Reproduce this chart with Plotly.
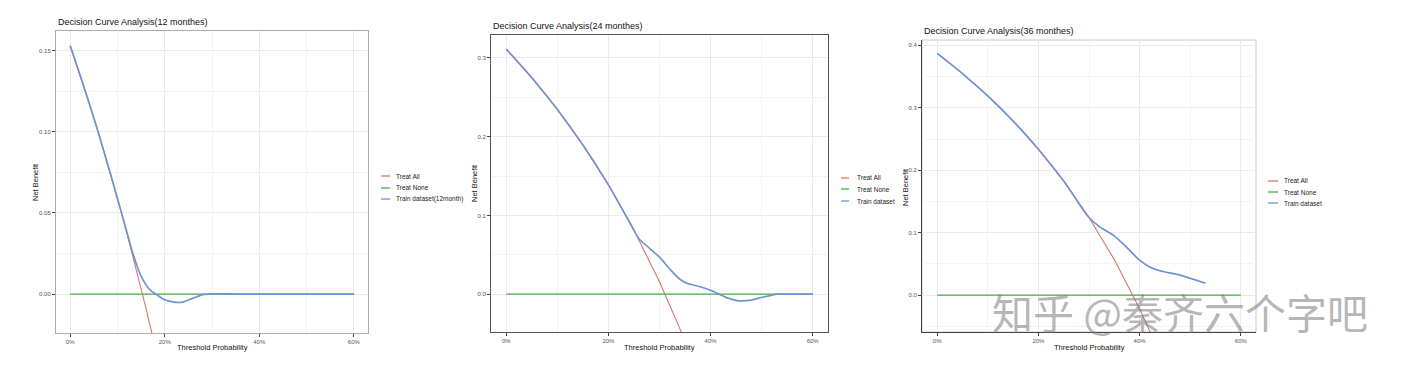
import plotly.graph_objects as go

W, H = 1408, 368

# ---------------- data ----------------
series_names_1 = ["Treat All", "Treat None", "Train dataset(12month)"]
series_names_2 = ["Treat All", "Treat None", "Train dataset"]
series_names_3 = ["Treat All", "Treat None", "Train dataset"]
titles = ["Decision Curve Analysis(12 monthes)",
          "Decision Curve Analysis(24 monthes)",
          "Decision Curve Analysis(36 monthes)"]

none_x = [0.0, 0.6]
none_y = [0.0, 0.0]

# panel 1 (12 months)
all1_x = [0.00, 0.02, 0.04, 0.06, 0.08, 0.10, 0.12, 0.14, 0.16, 0.18]
all1_y = [0.153, 0.1357, 0.1177, 0.0990, 0.0793, 0.0589, 0.0375, 0.0151, -0.0084, -0.0329]
train1_x = [0.00, 0.02, 0.04, 0.06, 0.08, 0.10, 0.12, 0.13, 0.14, 0.15, 0.16, 0.17, 0.18,
            0.19, 0.20, 0.22, 0.23, 0.24, 0.26, 0.28, 0.29, 0.35, 0.45, 0.60]
train1_y = [0.153, 0.1357, 0.1177, 0.0990, 0.0793, 0.0589, 0.0380, 0.0275, 0.0185, 0.0110,
            0.0058, 0.0022, 0.0002, -0.0018, -0.0035, -0.0050, -0.0052, -0.0048, -0.0025,
            -0.0004, 0.0, 0.0, 0.0, 0.0]

# panel 2 (24 months)
all2_x = [0.00, 0.05, 0.10, 0.15, 0.20, 0.25, 0.30, 0.32, 0.34, 0.36]
all2_y = [0.311, 0.2747, 0.2345, 0.1894, 0.1388, 0.0813, 0.0157, -0.0132, -0.0440, -0.0765]
train2_x = [0.00, 0.05, 0.10, 0.15, 0.20, 0.25, 0.26, 0.28, 0.30, 0.32, 0.34, 0.355, 0.38,
            0.40, 0.415, 0.43, 0.45, 0.46, 0.48, 0.50, 0.52, 0.53, 0.55, 0.60]
train2_y = [0.311, 0.2747, 0.2345, 0.1894, 0.1388, 0.0813, 0.0700, 0.0585, 0.0470, 0.0320,
            0.0190, 0.0135, 0.0095, 0.0050, 0.0005, -0.0040, -0.0078, -0.0085, -0.0075,
            -0.0042, -0.0012, 0.0, 0.0, 0.0]

# panel 3 (36 months)
all3_x = [0.00, 0.05, 0.10, 0.15, 0.20, 0.25, 0.30, 0.35, 0.40, 0.43]
all3_y = [0.387, 0.3547, 0.3189, 0.2788, 0.2337, 0.1827, 0.1243, 0.0569, -0.0217, -0.0754]
train3_x = [0.00, 0.05, 0.10, 0.15, 0.20, 0.25, 0.30, 0.32, 0.35, 0.38, 0.40, 0.42, 0.44, 0.48, 0.53]
train3_y = [0.387, 0.3547, 0.3189, 0.2788, 0.2337, 0.1827, 0.1243, 0.1100, 0.0950, 0.0720,
            0.0560, 0.0450, 0.0390, 0.0320, 0.0190]

x_ticks = [0.0, 0.2, 0.4, 0.6]
x_ticklabels = ["0%", "20%", "40%", "60%"]
y1_ticks = [0.0, 0.05, 0.10, 0.15]
y1_ticklabels = ["0.00", "0.05", "0.10", "0.15"]
y2_ticks = [0.0, 0.1, 0.2, 0.3]
y2_ticklabels = ["0.0", "0.1", "0.2", "0.3"]
y3_ticks = [0.0, 0.1, 0.2, 0.3, 0.4]
y3_ticklabels = ["0.0", "0.1", "0.2", "0.3", "0.4"]

watermark = "知乎 @秦齐六个字吧"

# ---------------- style ----------------
C_ALL = "#D4766C"
C_NONE = "#45AD45"
C_TRAIN = "#6F94D2"
FONT = "Liberation Sans, Arial, sans-serif"
colors = [C_ALL, C_NONE, C_TRAIN]
widths = [1.1, 1.3, 1.7]

OFF = 8  # page body margin offset


def px(x):
    return (x - OFF) / W


def py(y):
    return 1 - (y - OFF) / H


# plot-area pixel boxes (left, right, top, bottom)
boxes = [(56, 368, 31, 333), (491, 828, 35, 332), (922, 1256, 40, 332)]
yranges = [[-0.024, 0.162], [-0.048, 0.329], [-0.059, 0.4085]]
ytick_sets = [(y1_ticks, y1_ticklabels, 0.025), (y2_ticks, y2_ticklabels, 0.05),
              (y3_ticks, y3_ticklabels, 0.05)]
frame_colors = ["#ABABAB", "#555555", "#444444"]

panels = [
    (series_names_1, [(all1_x, all1_y), (none_x, none_y), (train1_x, train1_y)]),
    (series_names_2, [(all2_x, all2_y), (none_x, none_y), (train2_x, train2_y)]),
    (series_names_3, [(all3_x, all3_y), (none_x, none_y), (train3_x, train3_y)]),
]

fig = go.Figure()
annotations = []
shapes = []

legend_pos = [((381, 390, 394), (176, 188, 199)),
              ((841, 849, 855), (178, 189, 201)),
              ((1268, 1278, 1282), (181, 192, 203))]
ytitle_pos = [(35, 182), (474, 183), (905, 187)]

for i, (names, data) in enumerate(panels):
    sfx = "" if i == 0 else str(i + 1)
    xa, ya = "x" + sfx, "y" + sfx
    for k, ((xs, ys), nm) in enumerate(zip(data, names)):
        fig.add_trace(go.Scatter(
            x=xs, y=ys, mode="lines", name=nm, showlegend=False,
            line=dict(color=colors[k], width=widths[k],
                      shape="spline" if k == 2 else "linear", smoothing=0.8),
            xaxis=xa, yaxis=ya))
    l, r, t, b = boxes[i]
    yt, ytl, ydt = ytick_sets[i]
    mirror = True if i < 2 else False
    fig.layout["xaxis" + sfx] = dict(
        domain=[px(l), px(r)], range=[-0.03, 0.63], anchor=ya,
        tickvals=x_ticks, ticktext=x_ticklabels, ticks="outside", ticklen=3,
        tickcolor="#444", tickfont=dict(size=6, color="#555", family=FONT),
        showgrid=True, gridcolor="#EBEBEB", gridwidth=0.8,
        minor=dict(dtick=0.1, tick0=0, showgrid=True, gridcolor="#F4F4F4", gridwidth=0.5),
        showline=True, linecolor=frame_colors[i], linewidth=1, mirror=mirror,
        zeroline=False, fixedrange=True)
    fig.layout["yaxis" + sfx] = dict(
        domain=[py(b), py(t)], range=yranges[i], anchor=xa,
        tickvals=yt, ticktext=ytl, ticks="outside", ticklen=3,
        tickcolor="#444", tickfont=dict(size=6, color="#555", family=FONT),
        showgrid=True, gridcolor="#EBEBEB", gridwidth=0.8,
        minor=dict(dtick=ydt, tick0=0, showgrid=True, gridcolor="#F4F4F4", gridwidth=0.5),
        showline=True, linecolor=frame_colors[i], linewidth=1, mirror=mirror,
        zeroline=False, fixedrange=True)
    if i == 2:
        shapes.append(dict(type="rect", xref="x3 domain", yref="y3 domain",
                           x0=0, x1=1, y0=0, y1=1, line=dict(color="#C8C8C8", width=1),
                           layer="below"))
    # title
    annotations.append(dict(text=titles[i], x=px(l), y=py(t - 9), xref="paper", yref="paper",
                            xanchor="left", yanchor="middle", showarrow=False,
                            font=dict(size=9, color="#111", family=FONT)))
    # x title
    annotations.append(dict(text="Threshold Probability", x=px((l + r) / 2), y=py(347),
                            xref="paper", yref="paper", xanchor="center", yanchor="middle",
                            showarrow=False, font=dict(size=7.5, color="#111", family=FONT)))
    # y title
    yx, yy = ytitle_pos[i]
    annotations.append(dict(text="Net Benefit", x=px(yx), y=py(yy), xref="paper", yref="paper",
                            xanchor="center", yanchor="middle", textangle=-90, showarrow=False,
                            font=dict(size=7.5, color="#111", family=FONT)))
    # legend (drawn by hand to match the compact ggplot keys)
    (lx0, lx1, tx), rows = legend_pos[i]
    for k, nm in enumerate(names):
        shapes.append(dict(type="line", xref="paper", yref="paper",
                           x0=px(lx0), x1=px(lx1), y0=py(rows[k]), y1=py(rows[k]),
                           line=dict(color=colors[k], width=1.3)))
        annotations.append(dict(text=nm, x=px(tx), y=py(rows[k]), xref="paper", yref="paper",
                                xanchor="left", yanchor="middle", showarrow=False,
                                font=dict(size=6.5, color="#222", family=FONT)))

annotations.append(dict(text=watermark, x=px(1180), y=py(311), xref="paper", yref="paper",
                        xanchor="center", yanchor="middle", showarrow=False,
                        font=dict(size=41, color="rgba(120,120,120,0.55)",
                                  family="Noto Sans CJK SC")))

fig.update_layout(width=W, height=H, margin=dict(l=0, r=0, t=0, b=0),
                  paper_bgcolor="white", plot_bgcolor="white",
                  showlegend=False, annotations=annotations, shapes=shapes)

fig.write_html("out.html", config={"displayModeBar": False})
